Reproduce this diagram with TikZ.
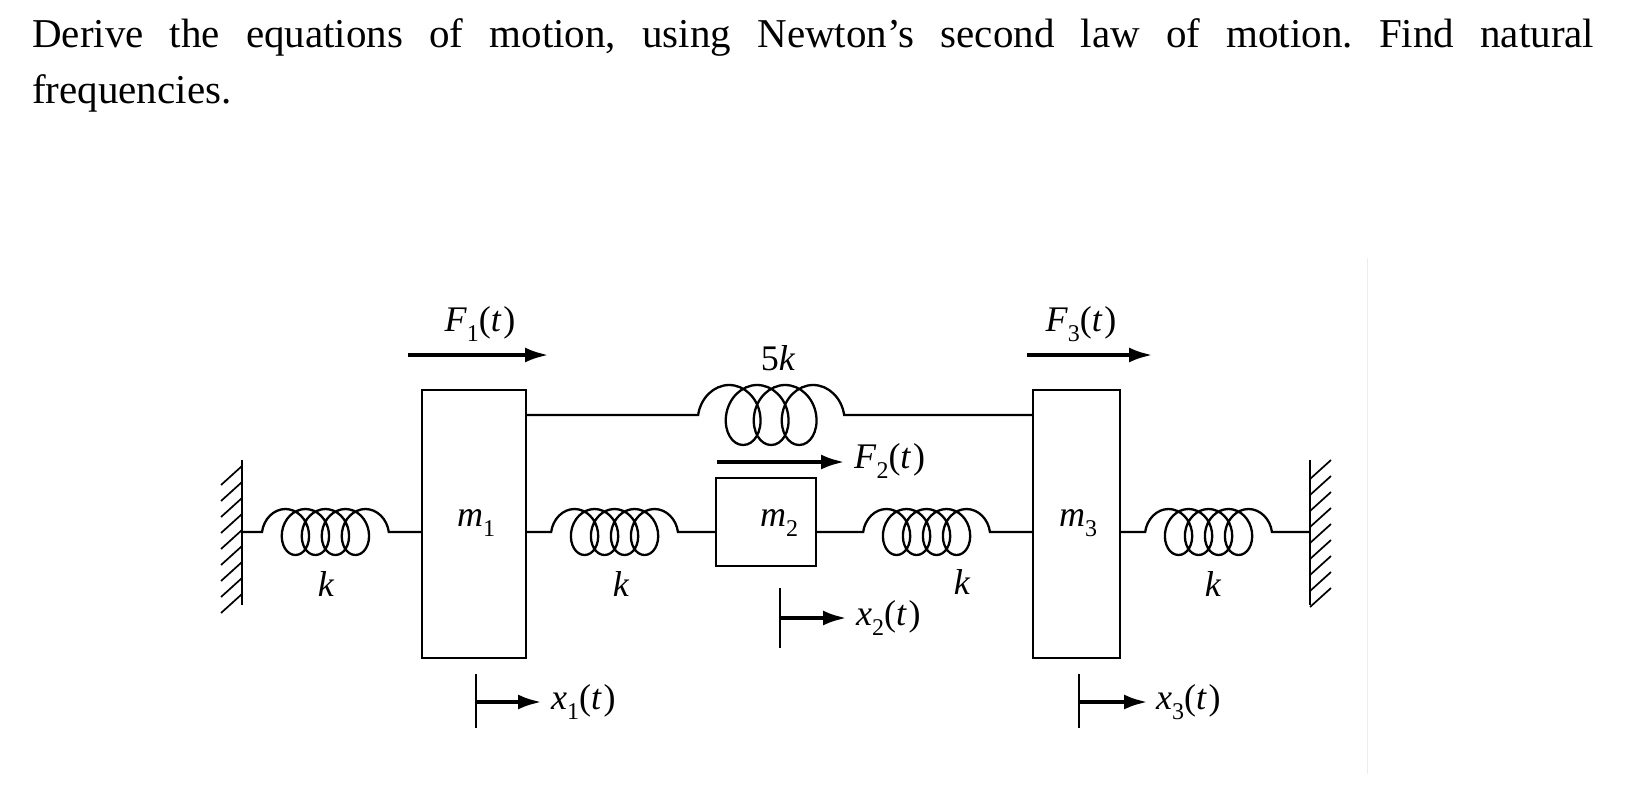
\documentclass[tikz,border=0pt]{standalone}
\usepackage{fontspec}
\setmainfont{Liberation Serif}
\usetikzlibrary{decorations.pathmorphing,arrows.meta}
\newcommand{\lbl}[2]{\textit{#1}\raisebox{-0.28em}{\fontsize{24}{24}\selectfont #2}(\textit{t}\kern0.05em)}
\begin{document}
\begin{tikzpicture}[x=1pt,y=-1pt,
  mass/.style={draw,line width=2.3pt,inner sep=0pt},
  spring/.style={line width=2.3pt,decorate,decoration={coil,aspect=0.8,amplitude=23pt,segment length=20pt,pre length=20pt,post length=20pt}},
  force/.style={line width=4.2pt,-{Latex[length=24pt,width=15pt]}},
  lab/.style={font=\fontsize{36}{36}\selectfont,inner sep=0pt},
  wall/.style={line width=2.3pt}]
\useasboundingbox (0,0) rectangle (1646,809);
\node[anchor=north west,inner sep=0pt,font=\fontsize{41}{56}\selectfont] (title) at (32,18)
 {\parbox{1562pt}{\frenchspacing\noindent Derive the equations of motion, using Newton’s second law of motion. Find natural\linebreak frequencies.}};
% faint border
\draw[black!7,line width=1pt] (1367,258) -- (1367,774);
% masses
\node[mass,minimum width=104pt,minimum height=268pt] (m1) at (474,524) {};
\node[mass,minimum width=100pt,minimum height=88pt] (m2) at (766,522) {};
\node[mass,minimum width=87pt,minimum height=268pt] (m3) at (1076.5,524) {};
\node[lab] at (476,523) {\textit{m}\raisebox{-0.28em}{\fontsize{24}{24}\selectfont 1}};
\node[lab] at (779,523) {\textit{m}\raisebox{-0.28em}{\fontsize{24}{24}\selectfont 2}};
\node[lab] at (1078,523) {\textit{m}\raisebox{-0.28em}{\fontsize{24}{24}\selectfont 3}};
% walls
\coordinate (wl) at (242,532);
\coordinate (wr) at (1310,532);
\draw[wall] (242,460) -- (242,605);
\foreach \y in {466,482,...,600} \draw[line width=1.7pt] (242,\y) -- (221,\y+19);
\draw[wall] (1310,460) -- (1310,605);
\foreach \y in {460,476,...,590} \draw[line width=1.7pt] (1310,\y+19) -- (1331,\y);
% bottom springs
\coordinate (a1) at (m1.west |- wl);
\coordinate (b1) at (m1.east |- wl);
\coordinate (a2) at (m2.west |- wl);
\coordinate (b2) at (m2.east |- wl);
\coordinate (a3) at (m3.west |- wl);
\coordinate (b3) at (m3.east |- wl);
\draw[spring] (wl) -- (a1);
\draw[spring,decoration={pre length=24pt,post length=22pt}] (b1) -- (a2);
\draw[spring,decoration={pre length=46pt,post length=34pt}] (b2) -- (a3);
\draw[spring,decoration={pre length=24pt,post length=24pt}] (b3) -- (wr);
% top spring
\coordinate (t1) at (m1.east |- 0,415);
\coordinate (t3) at (m3.west |- 0,415);
\draw[spring,decoration={amplitude=30pt,aspect=0.8,segment length=28pt,pre length=171pt,post length=170pt}] (t1) -- (t3);
\node[lab] at (778,358) {5\textit{k}};
% k labels
\node[lab] at (326,584) {\textit{k}};
\node[lab] at (621,584) {\textit{k}};
\node[lab] at (962,582) {\textit{k}};
\node[lab] at (1213,584) {\textit{k}};
% forces
\coordinate (f1a) at (408,355); \coordinate (f1b) at (549,355);
\draw[force] (f1a) -- (f1b);
\node[lab] at (480,324) {\lbl{F}{1}};
\coordinate (f3a) at (1027,355); \coordinate (f3b) at (1153,355);
\draw[force] (f3a) -- (f3b);
\node[lab] at (1081,324) {\lbl{F}{3}};
\coordinate (f2a) at (717,462); \coordinate (f2b) at (845,462);
\draw[force] (f2a) -- (f2b);
\node[lab,anchor=west] at (854,461) {\lbl{F}{2}};
% displacements
\draw[line width=2.3pt] (780,588) -- (780,648);
\coordinate (x2a) at (780,618); \coordinate (x2b) at (847,618);
\draw[force] (x2a) -- (x2b);
\node[lab,anchor=west] at (856,618) {\lbl{x}{2}};
\draw[line width=2.3pt] (476,674) -- (476,728);
\coordinate (x1a) at (476,702); \coordinate (x1b) at (542,702);
\draw[force] (x1a) -- (x1b);
\node[lab,anchor=west] at (551,702) {\lbl{x}{1}};
\draw[line width=2.3pt] (1079,674) -- (1079,728);
\coordinate (x3a) at (1079,702); \coordinate (x3b) at (1148,702);
\draw[force] (x3a) -- (x3b);
\node[lab,anchor=west] at (1156,702) {\lbl{x}{3}};
\end{tikzpicture}
\end{document}
